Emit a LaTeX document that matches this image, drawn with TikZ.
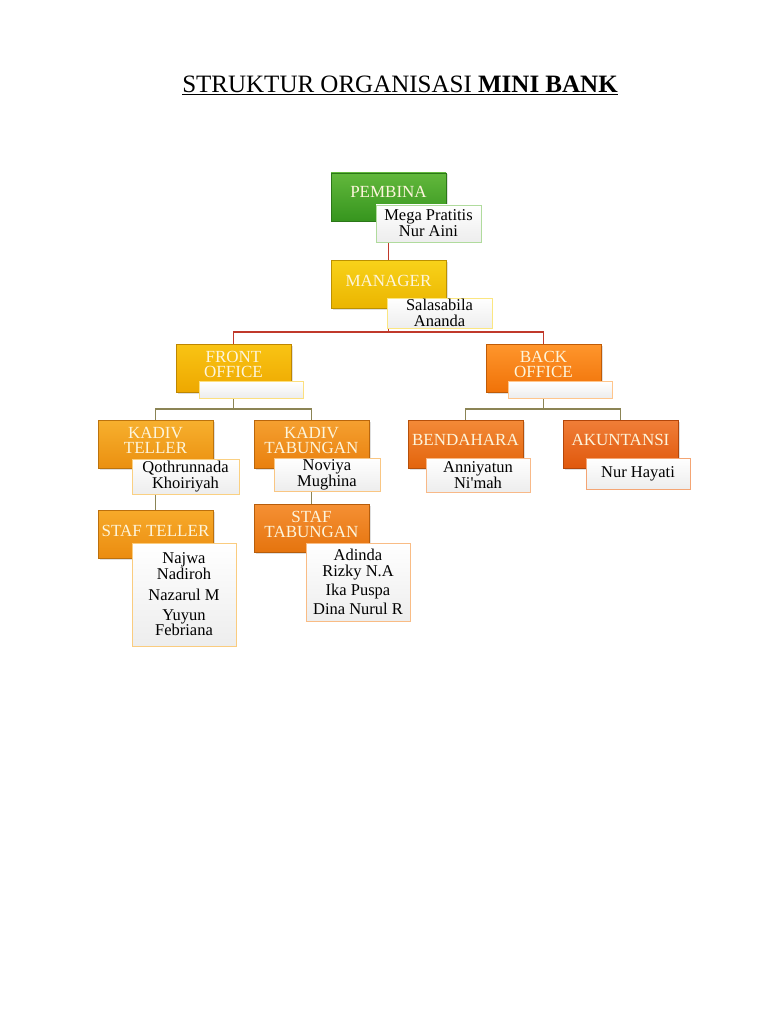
\documentclass[tikz,border=0pt]{standalone}
\usepackage{fontspec}
\setmainfont{Liberation Serif}
\newfontfamily\plainq{Liberation Serif}[Ligatures=TeXOff]
\usetikzlibrary{backgrounds,shadows}
\definecolor{redline}{HTML}{C0392B}
\definecolor{oliveline}{HTML}{8B8455}
\definecolor{roletxt}{HTML}{FDF5DC}
\definecolor{pemT}{HTML}{62B83C}\definecolor{pemB}{HTML}{36951E}
\definecolor{manT}{HTML}{F8D21A}\definecolor{manB}{HTML}{EBB500}
\definecolor{froT}{HTML}{F9C414}\definecolor{froB}{HTML}{EEA800}
\definecolor{bacT}{HTML}{FF962C}\definecolor{bacB}{HTML}{F07208}
\definecolor{ktlT}{HTML}{F7B02E}\definecolor{ktlB}{HTML}{EB9010}
\definecolor{ktbT}{HTML}{F5A030}\definecolor{ktbB}{HTML}{E9800E}
\definecolor{benT}{HTML}{F38A38}\definecolor{benB}{HTML}{E3640C}
\definecolor{akuT}{HTML}{F07E38}\definecolor{akuB}{HTML}{E0580C}
\definecolor{stlT}{HTML}{F7AA2A}\definecolor{stlB}{HTML}{EB8C10}
\definecolor{stbT}{HTML}{F59034}\definecolor{stbB}{HTML}{E5740E}
\begin{document}
\begin{tikzpicture}[x=1pt,y=-1pt,
  rolebox/.style={rectangle, inner sep=0pt, minimum width=115pt, minimum height=48pt,
    drop shadow={opacity=0.25, shadow xshift=1.5pt, shadow yshift=-1.5pt}},
  roletext/.style={text=roletxt, align=center, inner sep=0pt, font=\fontsize{17}{15}\selectfont},
  namebox/.style={rectangle, inner sep=0pt, top color=white, bottom color=black!7, line width=0.9pt,
    align=center, font=\fontsize{16.5}{15.8}\selectfont, text=black,
    drop shadow={opacity=0.2, shadow xshift=1.2pt, shadow yshift=-1.2pt}},
  redconn/.style={draw=redline, line width=1.6pt},
  oliveconn/.style={draw=oliveline, line width=1.6pt}
]
\useasboundingbox (0,0) rectangle (768,1024);

% title
\node[inner sep=0pt, font=\fontsize{25}{25}\selectfont] (title) at (400,85)
  {\underline{STRUKTUR ORGANISASI \textbf{MINI BANK}}};

% role boxes
\node[rolebox, top color=pemT, bottom color=pemB, draw=pemB!80!black] (pembina) at (388.5,197) {};
\node[rolebox, top color=manT, bottom color=manB, draw=manB!80!black] (manager) at (388.5,284) {};
\node[rolebox, top color=froT, bottom color=froB, draw=froB!80!black] (front) at (233.5,368) {};
\node[rolebox, top color=bacT, bottom color=bacB, draw=bacB!80!black] (back) at (543.5,368) {};
\node[rolebox, top color=ktlT, bottom color=ktlB, draw=ktlB!80!black] (kteller) at (155.5,444) {};
\node[rolebox, top color=ktbT, bottom color=ktbB, draw=ktbB!80!black] (ktab) at (311.5,444) {};
\node[rolebox, top color=benT, bottom color=benB, draw=benB!80!black] (bend) at (465.5,444) {};
\node[rolebox, top color=akuT, bottom color=akuB, draw=akuB!80!black] (akun) at (620.5,444) {};
\node[rolebox, top color=stlT, bottom color=stlB, draw=stlB!80!black] (steller) at (155.5,534) {};
\node[rolebox, top color=stbT, bottom color=stbB, draw=stbB!80!black] (stab) at (311.5,528) {};

% role texts
\node[roletext] (pembinaT) at (388.5,192) {PEMBINA};
\node[roletext] (managerT) at (388.5,281) {MANAGER};
\node[roletext] (frontT) at (233.5,364) {FRONT\\OFFICE};
\node[roletext] (backT) at (543.5,364) {BACK\\OFFICE};
\node[roletext] (ktellerT) at (155.5,440) {KADIV\\TELLER};
\node[roletext] (ktabT) at (311.5,440) {KADIV\\TABUNGAN};
\node[roletext] (bendT) at (465.5,440) {BENDAHARA};
\node[roletext] (akunT) at (620.5,440) {AKUNTANSI};
\node[roletext] (stellerT) at (155.5,531) {STAF TELLER};
\node[roletext] (stabT) at (311.5,524) {STAF\\TABUNGAN};

% connectors
\begin{pgfonlayer}{background}
\coordinate (bus1) at (388.5,332);
\coordinate (bus2) at (233.5,409);
\coordinate (bus3) at (543.5,409);
\draw[redconn] (pembina) -- (manager);
\draw[redconn] (manager) -- (bus1);
\draw[redconn] (bus1) -| (front.north);
\draw[redconn] (bus1) -| (back.north);
\draw[oliveconn] (front) -- (bus2);
\draw[oliveconn] (bus2) -| (kteller.north);
\draw[oliveconn] (bus2) -| (ktab.north);
\draw[oliveconn] (back) -- (bus3);
\draw[oliveconn] (bus3) -| (bend.north);
\draw[oliveconn] (bus3) -| (akun.north);
\draw[oliveconn] (kteller) -- (steller);
\draw[oliveconn] (ktab) -- (stab);
\end{pgfonlayer}

% name boxes
\node[namebox, draw=pemT!50, minimum width=105pt, minimum height=37pt] (mega) at (428.5,223.5) {Mega Pratitis\\Nur Aini};
\node[namebox, draw=manT!55, minimum width=105pt, minimum height=30pt] (sala) at (439.5,313) {Salasabila\\Ananda};
\node[namebox, draw=froT!55, minimum width=104pt, minimum height=17pt] (frontN) at (251,389.5) {};
\node[namebox, draw=bacT!55, minimum width=104pt, minimum height=17pt] (backN) at (560,389.5) {};
\node[namebox, draw=ktlT!60, minimum width=107pt, minimum height=35pt] (qoth) at (185.5,476.5) {Qothrunnada\\Khoiriyah};
\node[namebox, draw=ktbT!60, minimum width=106pt, minimum height=33pt] (novi) at (327,474.5) {Noviya\\Mughina};
\node[namebox, draw=benT!60, minimum width=104pt, minimum height=34pt] (anni) at (478,475) {Anniyatun\\Ni{\plainq '}mah};
\node[namebox, draw=akuT!70, minimum width=104pt, minimum height=31pt] (nurh) at (638,473.5) {Nur Hayati};
\node[namebox, draw=stlT!60, minimum width=104pt, minimum height=103pt] (najwa) at (184,594.5) {Najwa\\Nadiroh\\[5pt]Nazarul M\\[4pt]Yuyun\\Febriana};
\node[namebox, draw=stbT!60, minimum width=104pt, minimum height=78pt] (adinda) at (358,582) {Adinda\\Rizky N.A\\[3pt]Ika Puspa\\[3pt]Dina Nurul R};
\end{tikzpicture}
\end{document}
